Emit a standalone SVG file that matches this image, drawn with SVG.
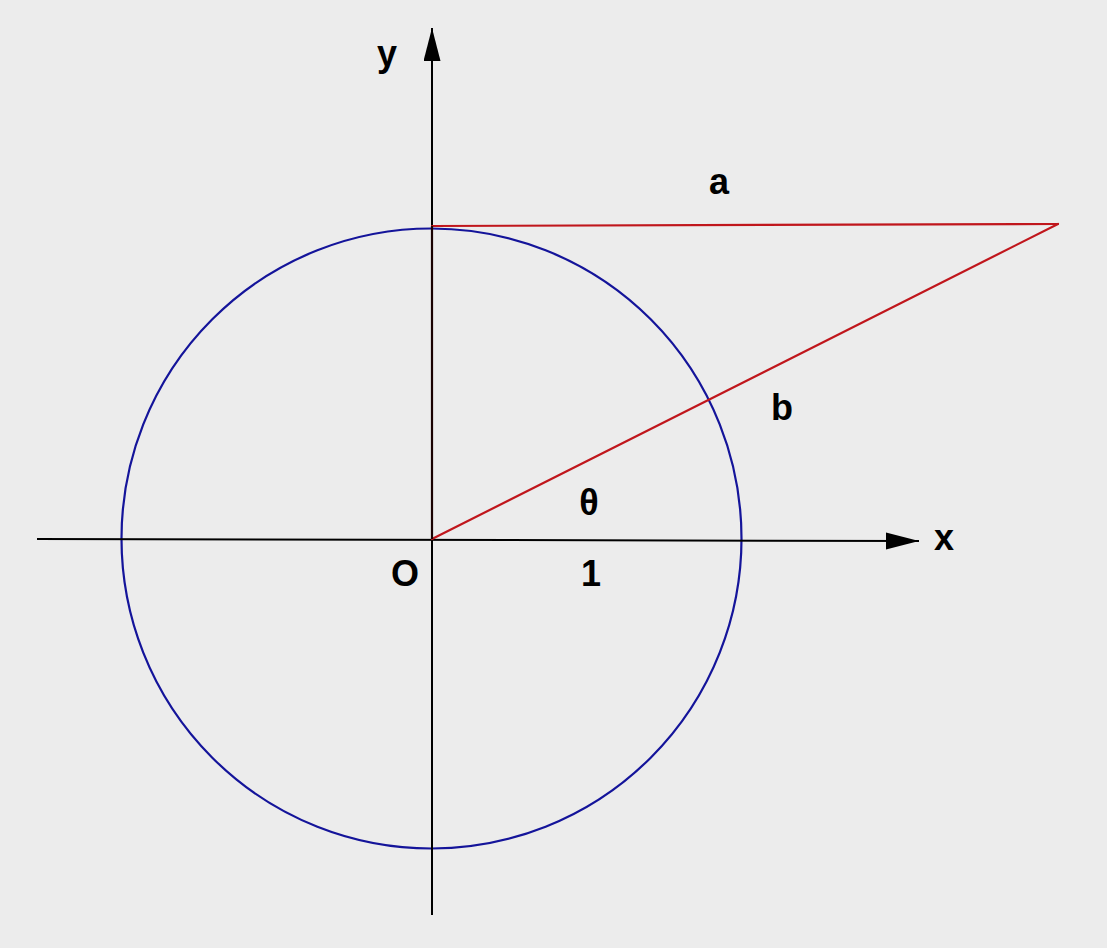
<svg xmlns="http://www.w3.org/2000/svg" width="1107" height="948" viewBox="0 0 1107 948">
  <style>
    .axis { stroke: #000; stroke-width: 2; fill: none; }
    .red { stroke: #c0161c; stroke-width: 2.2; fill: none; stroke-linecap: round; }
    .circle { stroke: #14149a; stroke-width: 2.2; fill: none; }
    .lbl { font-family: "Liberation Sans", Arial, sans-serif; font-weight: bold; font-size: 36px; fill: #000; text-anchor: middle; }
  </style>
  <defs>
    <marker id="arrow" markerUnits="userSpaceOnUse" markerWidth="34" markerHeight="18" refX="33" refY="8.5" orient="auto">
      <path d="M0,0 L33,8.5 L0,17 z" fill="#000"/>
    </marker>
  </defs>
  <rect x="0" y="0" width="1107" height="948" fill="#ececec"/>
  <g id="circle">
    <circle class="circle" cx="431.5" cy="538.5" r="310"/>
  </g>
  <g id="connectors">
    <line id="x-axis" class="axis" x1="37" y1="539" x2="919" y2="541" marker-end="url(#arrow)"/>
    <line id="y-axis" class="axis" x1="432" y1="915" x2="432" y2="28" marker-end="url(#arrow)"/>
    <line id="side-a" class="red" x1="432" y1="226" x2="1058" y2="224"/>
    <line id="side-b" class="red" x1="432" y1="539" x2="1058" y2="224"/>
    <line id="side-vert" x1="432" y1="539" x2="432" y2="226" stroke="#1a0202" stroke-width="2.2"/>
  </g>
  <g id="labels">
    <text class="lbl" x="387" y="66">y</text>
    <text class="lbl" x="944" y="550">x</text>
    <text class="lbl" x="719" y="194">a</text>
    <text class="lbl" x="782" y="420">b</text>
    <text class="lbl" x="589" y="515">θ</text>
    <text class="lbl" x="405" y="586">O</text>
    <text class="lbl" x="591" y="586">1</text>
  </g>
</svg>
